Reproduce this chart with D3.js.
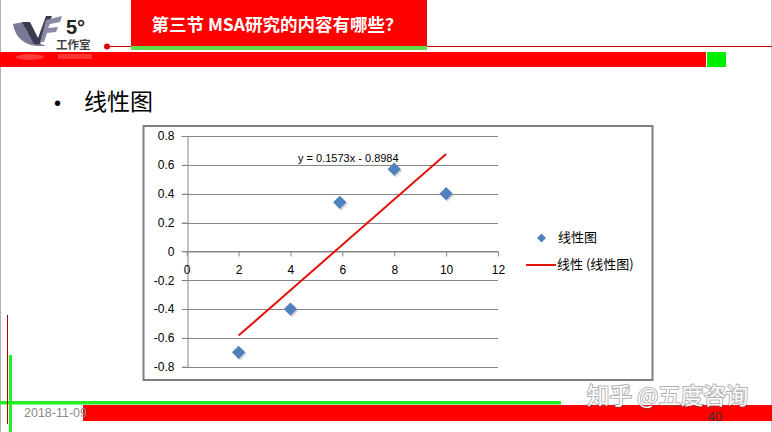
<!DOCTYPE html>
<html>
<head>
<meta charset="utf-8">
<script src="https://cdn.jsdelivr.net/npm/d3@7"></script>
<style>
  html, body { margin: 0; padding: 0; background: #fff; }
  svg { display: block; }
</style>
</head>
<body>
<svg id="slide" width="772" height="432"></svg>
<script>
// ---- data ----
const xValues = [2, 4, 5.9, 8, 10];
const yValues = [-0.70, -0.40, 0.34, 0.57, 0.40];
const trendSlope = 0.1573;
const trendIntercept = -0.8984;
const trendRange = [2, 10];
const xTicks = [0, 2, 4, 6, 8, 10, 12];
const yTicks = [-0.8, -0.6, -0.4, -0.2, 0, 0.2, 0.4, 0.6, 0.8];
const seriesName = "线性图";
const trendName = "线性 (线性图)";
const equationText = "y = 0.1573x - 0.8984";
const titleText = "第三节 MSA研究的内容有哪些？";
const bulletText = "线性图";
const dateText = "2018-11-09";
const pageText = "40";
const watermarkText = "知乎 @五度咨询";

const CJK = "'Noto Sans CJK SC', 'Noto Sans', sans-serif";
const LAT = "'Liberation Sans', Arial, sans-serif";

const svg = d3.select("#slide");

// ---- slide decoration ----
svg.append("line").attr("x1", 0.5).attr("x2", 0.5).attr("y1", 0).attr("y2", 432)
  .attr("stroke", "#b0b0b0").attr("stroke-width", 1);
svg.append("line").attr("x1", 771.5).attr("x2", 771.5).attr("y1", 0).attr("y2", 432)
  .attr("stroke", "#c8c8c8").attr("stroke-width", 1);

// thin red line under title
svg.append("line").attr("x1", 107).attr("x2", 772).attr("y1", 46.5).attr("y2", 46.5)
  .attr("stroke", "#d00000").attr("stroke-width", 1);
svg.append("circle").attr("cx", 107).attr("cy", 46.5).attr("r", 3).attr("fill", "#e00000");

// title box
svg.append("rect").attr("x", 131).attr("y", 0).attr("width", 296).attr("height", 46).attr("fill", "#ff0000");
svg.append("rect").attr("x", 131).attr("y", 46).attr("width", 296).attr("height", 4).attr("fill", "#5fe04a");
svg.append("text").attr("x", 277).attr("y", 31).attr("text-anchor", "middle")
  .attr("font-family", CJK).attr("font-weight", "bold").attr("font-size", 17.5)
  .attr("fill", "#fff").text(titleText);

// big red bar + green square
svg.append("rect").attr("x", 0).attr("y", 52).attr("width", 706).attr("height", 15).attr("fill", "#ff0000");
svg.append("rect").attr("x", 707).attr("y", 52).attr("width", 19).attr("height", 15).attr("fill", "#00ee00");

// logo
const logo = svg.append("g");
logo.append("path").attr("d", "M13,24 C15,37 24,45 37,46 L46,46 C34,42 26,34 24,22 Z").attr("fill", "#7a7a96");
logo.append("path").attr("d", "M22,22 L30,22 L38,38 L46,16 L52,16 L40,44 L34,44 Z").attr("fill", "#3a3a50");
logo.append("path").attr("d", "M46,20 L62,16 L60,22 L50,24 L48,28 L58,27 L56,32 L47,33 L44,42 L40,42 Z").attr("fill", "#8a8aa6");
logo.append("text").attr("x", 66).attr("y", 34).attr("font-family", LAT).attr("font-weight", "bold")
  .attr("font-size", 20).attr("fill", "#222").text("5°");
logo.append("text").attr("x", 56).attr("y", 49).attr("font-family", CJK).attr("font-weight", "bold")
  .attr("font-size", 11.5).attr("fill", "#444").text("工作室");
// faint reflection (shapes only)
logo.append("ellipse").attr("cx", 30).attr("cy", 57).attr("rx", 14).attr("ry", 3).attr("fill", "#ff7070").attr("opacity", 0.5);
logo.append("rect").attr("x", 58).attr("y", 54).attr("width", 34).attr("height", 5).attr("fill", "#ff6a6a").attr("opacity", 0.5);

// bullet
svg.append("text").attr("x", 54).attr("y", 110).attr("font-family", LAT).attr("font-size", 20)
  .attr("fill", "#000").text("•");
svg.append("text").attr("x", 84).attr("y", 110).attr("font-family", CJK).attr("font-size", 23)
  .attr("fill", "#000").text(bulletText);

// bottom decoration
svg.append("rect").attr("x", 83).attr("y", 405).attr("width", 689).attr("height", 16).attr("fill", "#ff0000");
svg.append("rect").attr("x", 0).attr("y", 401).attr("width", 561).attr("height", 3.5).attr("fill", "#22ee22");
svg.append("line").attr("x1", 7.5).attr("x2", 7.5).attr("y1", 315).attr("y2", 424)
  .attr("stroke", "#b00000").attr("stroke-width", 1);
svg.append("rect").attr("x", 9).attr("y", 355).attr("width", 3).attr("height", 77).attr("fill", "#22ee22");
svg.append("text").attr("x", 24).attr("y", 416.5).attr("font-family", LAT).attr("font-size", 12.5)
  .attr("fill", "#8a8a8a").text(dateText);
svg.append("text").attr("x", 708).attr("y", 421).attr("font-family", LAT).attr("font-size", 12.5)
  .attr("fill", "#333").text(pageText);
// watermark
svg.append("text").attr("x", 587).attr("y", 404).attr("font-family", CJK).attr("font-size", 22.5)
  .attr("fill", "none").attr("stroke", "#555").attr("stroke-width", 2).attr("opacity", 0.45)
  .text(watermarkText);
svg.append("text").attr("x", 587).attr("y", 404).attr("font-family", CJK).attr("font-size", 22.5)
  .attr("fill", "#fff").text(watermarkText);

// ---- chart ----
svg.append("rect").attr("x", 143.5).attr("y", 126).attr("width", 509).attr("height", 254)
  .attr("fill", "#fff").attr("stroke", "#7f7f7f").attr("stroke-width", 2);

const x = d3.scaleLinear().domain([0, 12]).range([186.7, 498]);
const y = d3.scaleLinear().domain([-0.8, 0.8]).range([366.7, 136]);
const fmt = d => String(+d.toFixed(1));

// gridlines
svg.append("g").selectAll("line").data(yTicks).join("line")
  .attr("x1", x(0) - 5).attr("x2", x(12))
  .attr("y1", d => Math.round(y(d)) + 0.5).attr("y2", d => Math.round(y(d)) + 0.5)
  .attr("stroke", "#868686").attr("stroke-width", 1);

// y axis
const yAxis = svg.append("g").attr("transform", `translate(${Math.round(x(0)) + 0.5},0)`)
  .call(d3.axisLeft(y).tickValues(yTicks).tickFormat(fmt).tickSize(5).tickPadding(8).tickSizeOuter(0));
yAxis.selectAll("path, line").attr("stroke", "#868686");
yAxis.selectAll("text").attr("font-family", LAT).attr("font-size", 12).attr("fill", "#000");

// x axis at y = 0
const xAxis = svg.append("g").attr("transform", `translate(0,${Math.round(y(0)) + 0.5})`)
  .call(d3.axisBottom(x).tickValues(xTicks).tickFormat(fmt).tickSize(5).tickPadding(9).tickSizeOuter(0));
xAxis.selectAll("path, line").attr("stroke", "#868686");
xAxis.selectAll("text").attr("font-family", LAT).attr("font-size", 12).attr("fill", "#000");

// trendline
const trend = trendRange.map(v => [v, trendIntercept + trendSlope * v]);
svg.append("path").datum(trend)
  .attr("d", d3.line().x(d => x(d[0])).y(d => y(d[1])))
  .attr("fill", "none").attr("stroke", "#e3120b").attr("stroke-width", 2);

// points
const pts = xValues.map((v, i) => [v, yValues[i]]);
const diamond = d3.symbol().type(d3.symbolSquare).size(88);
svg.append("g").selectAll("path").data(pts).join("path")
  .attr("d", diamond)
  .attr("transform", d => `translate(${x(d[0]) + 1.5},${y(d[1]) + 1.5}) rotate(45)`)
  .attr("fill", "#b8b8c0").attr("opacity", 0.6);
svg.append("g").selectAll("path").data(pts).join("path")
  .attr("d", diamond)
  .attr("transform", d => `translate(${x(d[0])},${y(d[1])}) rotate(45)`)
  .attr("fill", "#4f81bd");

// equation label
svg.append("text").attr("x", 298).attr("y", 161.5).attr("font-family", LAT).attr("font-size", 11)
  .attr("fill", "#000").text(equationText);

// legend
svg.append("path").attr("d", d3.symbol().type(d3.symbolSquare).size(40))
  .attr("transform", "translate(541.5,238) rotate(45)").attr("fill", "#4f81bd");
svg.append("text").attr("x", 558).attr("y", 242).attr("font-family", CJK).attr("font-size", 13)
  .attr("fill", "#000").text(seriesName);
svg.append("line").attr("x1", 526).attr("x2", 556).attr("y1", 265).attr("y2", 265)
  .attr("stroke", "#e3120b").attr("stroke-width", 2);
svg.append("text").attr("x", 557).attr("y", 269).attr("font-family", CJK).attr("font-size", 13)
  .attr("fill", "#000").text(trendName);
</script>
</body>
</html>
